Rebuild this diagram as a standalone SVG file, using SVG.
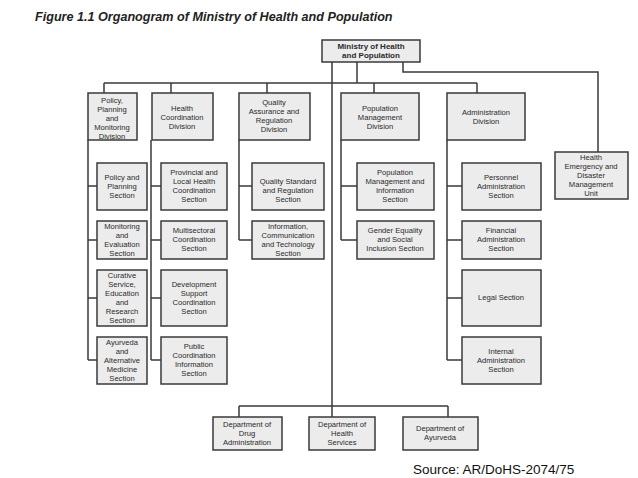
<svg xmlns="http://www.w3.org/2000/svg" width="638" height="478" viewBox="0 0 638 478">
<style>
rect{fill:#ececec;stroke:#3a3a3a;stroke-width:1.5}
text{font-family:"Liberation Sans",Arial,sans-serif;font-size:7.6px;fill:#2a2a2a;text-anchor:middle}
.c path{fill:none;stroke:#3a3a3a;stroke-width:1.5}
</style>
<rect x="0" y="0" width="638" height="478" style="fill:#fff;stroke:none"/>
<text x="35" y="21" style="font-size:12.6px;font-weight:bold;font-style:italic;text-anchor:start;fill:#222">Figure 1.1  Organogram of Ministry of Health and Population</text>
<g class="c">
<path d="M332 62V406M357 62V83M104 83H477M104 83V93M171 83V93M267 83V93M374 83V93M477 83V93M403 62V72H598V152"/>
<path d="M88 140V360M88 186H97M88 240H97M88 298H97M88 360H97"/>
<path d="M151 140V360M151 186H161M151 240H161M151 298H161M151 360H161"/>
<path d="M239 140V240M239 186H252M239 240H252"/>
<path d="M341 140V240M341 186H357M341 240H357"/>
<path d="M447 140V360M447 186H462M447 240H462M447 298H462M447 360H462"/>
<path d="M239 406H448M239 406V417M332 406V417M448 406V417"/>
</g>
<g id="ministry"><rect x="322" y="40" width="98" height="22"/><text x="371" y="49" style="font-weight:bold;font-size:8px">Ministry of Health</text><text x="371" y="58" style="font-weight:bold;font-size:8px">and Population</text></g>
<g id="d1"><rect x="88" y="93" width="49" height="47"/><text x="112" y="103">Policy,</text><text x="112" y="112">Planning</text><text x="112" y="121">and</text><text x="112" y="130">Monitoring</text><text x="112" y="139">Division</text></g>
<g id="d2"><rect x="152" y="93" width="61" height="47"/><text x="182" y="111">Health</text><text x="182" y="120">Coordination</text><text x="182" y="129">Division</text></g>
<g id="d3"><rect x="239" y="93" width="71" height="47"/><text x="274" y="105">Quality</text><text x="274" y="114">Assurance and</text><text x="274" y="123">Regulation</text><text x="274" y="132">Division</text></g>
<g id="d4"><rect x="341" y="93" width="78" height="47"/><text x="380" y="111">Population</text><text x="380" y="120">Management</text><text x="380" y="129">Division</text></g>
<g id="d5"><rect x="447" y="93" width="78" height="47"/><text x="486" y="115">Administration</text><text x="486" y="124">Division</text></g>
<g id="d6"><rect x="555" y="152" width="73" height="47"/><text x="591" y="160">Health</text><text x="591" y="169">Emergency and</text><text x="591" y="178">Disaster</text><text x="591" y="187">Management</text><text x="591" y="196">Unit</text></g>
<g id="s11"><rect x="97" y="163" width="50" height="47"/><text x="122" y="180">Policy and</text><text x="122" y="189">Planning</text><text x="122" y="198">Section</text></g>
<g id="s12"><rect x="97" y="221" width="50" height="38"/><text x="122" y="229">Monitoring</text><text x="122" y="238">and</text><text x="122" y="247">Evaluation</text><text x="122" y="256">Section</text></g>
<g id="s13"><rect x="97" y="270" width="50" height="56"/><text x="122" y="278">Curative</text><text x="122" y="287">Service,</text><text x="122" y="296">Education</text><text x="122" y="305">and</text><text x="122" y="314">Research</text><text x="122" y="323">Section</text></g>
<g id="s14"><rect x="97" y="337" width="50" height="47"/><text x="122" y="345">Ayurveda</text><text x="122" y="354">and</text><text x="122" y="363">Alternative</text><text x="122" y="372">Medicine</text><text x="122" y="381">Section</text></g>
<g id="s21"><rect x="161" y="163" width="66" height="47"/><text x="194" y="175">Provincial and</text><text x="194" y="184">Local Health</text><text x="194" y="193">Coordination</text><text x="194" y="202">Section</text></g>
<g id="s22"><rect x="161" y="221" width="66" height="38"/><text x="194" y="233">Multisectoral</text><text x="194" y="242">Coordination</text><text x="194" y="251">Section</text></g>
<g id="s23"><rect x="161" y="270" width="66" height="56"/><text x="194" y="287">Development</text><text x="194" y="296">Support</text><text x="194" y="305">Coordination</text><text x="194" y="314">Section</text></g>
<g id="s24"><rect x="161" y="337" width="66" height="47"/><text x="194" y="349">Public</text><text x="194" y="358">Coordination</text><text x="194" y="367">Information</text><text x="194" y="376">Section</text></g>
<g id="s31"><rect x="252" y="163" width="72" height="47"/><text x="288" y="184">Quality Standard</text><text x="288" y="193">and Regulation</text><text x="288" y="202">Section</text></g>
<g id="s32"><rect x="252" y="221" width="72" height="38"/><text x="288" y="229">Information,</text><text x="288" y="238">Communication</text><text x="288" y="247">and Technology</text><text x="288" y="256">Section</text></g>
<g id="s41"><rect x="357" y="163" width="77" height="47"/><text x="395" y="175">Population</text><text x="395" y="184">Management and</text><text x="395" y="193">Information</text><text x="395" y="202">Section</text></g>
<g id="s42"><rect x="357" y="221" width="77" height="38"/><text x="395" y="233">Gender Equality</text><text x="395" y="242">and Social</text><text x="395" y="251">Inclusion Section</text></g>
<g id="s51"><rect x="462" y="163" width="79" height="47"/><text x="501" y="180">Personnel</text><text x="501" y="189">Administration</text><text x="501" y="198">Section</text></g>
<g id="s52"><rect x="462" y="221" width="79" height="38"/><text x="501" y="233">Financial</text><text x="501" y="242">Administration</text><text x="501" y="251">Section</text></g>
<g id="s53"><rect x="462" y="270" width="79" height="56"/><text x="501" y="300">Legal Section</text></g>
<g id="s54"><rect x="462" y="337" width="79" height="47"/><text x="501" y="354">Internal</text><text x="501" y="363">Administration</text><text x="501" y="372">Section</text></g>
<g id="dep1"><rect x="213" y="417" width="69" height="33"/><text x="247" y="427">Department of</text><text x="247" y="436">Drug</text><text x="247" y="445">Administration</text></g>
<g id="dep2"><rect x="309" y="417" width="66" height="33"/><text x="342" y="427">Department of</text><text x="342" y="436">Health</text><text x="342" y="445">Services</text></g>
<g id="dep3"><rect x="403" y="417" width="75" height="33"/><text x="440" y="431">Department of</text><text x="440" y="440">Ayurveda</text></g>
<text x="413" y="474" style="font-size:13.5px;text-anchor:start;fill:#111">Source: AR/DoHS-2074/75</text>
</svg>
